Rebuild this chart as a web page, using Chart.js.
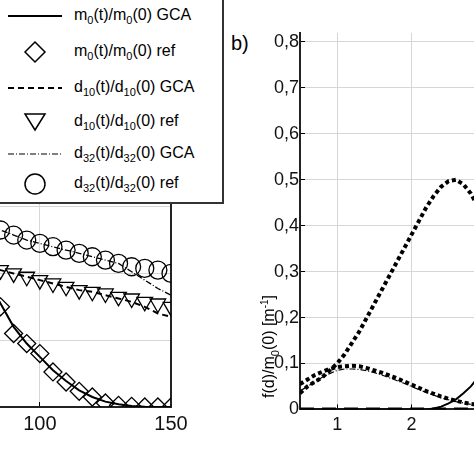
<!DOCTYPE html>
<html><head><meta charset="utf-8">
<script src="https://cdn.jsdelivr.net/npm/chart.js@4/dist/chart.umd.min.js"></script>
<style>
body{margin:0;width:474px;height:474px;overflow:hidden;background:#fff;position:relative;font-family:Arial,"Liberation Sans",sans-serif}
#wa{position:absolute;left:-238px;top:-4px;width:469px;height:450px}
#wb{position:absolute;left:268px;top:16px;width:240px;height:430px}
#legend{position:absolute;left:-2px;top:-2px;width:222px;height:202px;border:2px solid #333;background:#fff;font-size:16px}
.row{position:absolute;left:0;height:24px;display:flex;align-items:center}
.row svg{width:70px;height:24px}
.row span{margin-left:4px;white-space:nowrap}
sub{font-size:11px}
#lb{position:absolute;left:231px;top:32px;font-size:20px}
#ylab{position:absolute;left:256px;top:398px;transform:rotate(-90deg);transform-origin:0 0;font-size:16px;white-space:nowrap;line-height:18px}
</style></head><body>
<div id="wa"><canvas id="ca"></canvas></div>
<div id="wb"><canvas id="cb"></canvas></div>
<div id="legend">
 <div class="row" style="top:4px"><svg><line x1="8" y1="12" x2="62" y2="12" stroke="#000" stroke-width="2"/></svg><span>m<sub>0</sub>(t)/m<sub>0</sub>(0) GCA</span></div>
 <div class="row" style="top:40px"><svg><polygon points="35,2 45,12 35,22 25,12" fill="none" stroke="#000" stroke-width="1.5"/></svg><span>m<sub>0</sub>(t)/m<sub>0</sub>(0) ref</span></div>
 <div class="row" style="top:76px"><svg><line x1="8" y1="12" x2="62" y2="12" stroke="#000" stroke-width="2" stroke-dasharray="6,4"/></svg><span>d<sub>10</sub>(t)/d<sub>10</sub>(0) GCA</span></div>
 <div class="row" style="top:110px"><svg><polygon points="25,4 45,4 35,20" fill="none" stroke="#000" stroke-width="1.5"/></svg><span>d<sub>10</sub>(t)/d<sub>10</sub>(0) ref</span></div>
 <div class="row" style="top:142px"><svg><line x1="8" y1="12" x2="62" y2="12" stroke="#000" stroke-width="1.2" stroke-dasharray="6,2,1,2"/></svg><span>d<sub>32</sub>(t)/d<sub>32</sub>(0) GCA</span></div>
 <div class="row" style="top:172px"><svg><circle cx="35" cy="12" r="10" fill="none" stroke="#000" stroke-width="1.5"/></svg><span>d<sub>32</sub>(t)/d<sub>32</sub>(0) ref</span></div>
</div>
<div id="lb">b)</div>
<div id="ylab">f(d)/m<sub>0</sub>(0) [m<sup style="font-size:10px">-1</sup>]</div>
<script>
// panel a
var tA = [0,5,10,15,20,25,30,35,40,45,50,55,60,65,70,75,80,85,90,95,100,105,110,115,120,125,130,135,140,145,150];
var m0Ref = [1,1,0.99,0.98,0.97,0.95,0.93,0.9,0.87,0.83,0.78,0.72,0.66,0.59,0.52,0.45,0.39,0.30,0.22,0.19,0.16,0.105,0.075,0.047,0.03,0.012,0.005,0.002,0,0,0];
var m0Gca = [1,1,0.99,0.98,0.97,0.95,0.93,0.9,0.87,0.83,0.78,0.72,0.66,0.59,0.52,0.45,0.38,0.31,0.24,0.19,0.15,0.11,0.078,0.05,0.03,0.016,0.008,0.003,0.001,0,0];
var d10Ref = [1,0.95,0.9,0.85,0.8,0.76,0.72,0.68,0.64,0.61,0.58,0.55,0.52,0.49,0.47,0.44,0.42,0.41,0.40,0.39,0.38,0.37,0.36,0.35,0.345,0.34,0.33,0.325,0.315,0.31,0.30];
var d10Gca = [1,0.95,0.9,0.85,0.8,0.76,0.72,0.68,0.64,0.61,0.58,0.55,0.52,0.49,0.47,0.44,0.42,0.41,0.40,0.39,0.38,0.37,0.36,0.35,0.345,0.335,0.325,0.315,0.30,0.28,0.27];
var d32Ref = [1,0.97,0.94,0.91,0.88,0.85,0.82,0.79,0.76,0.73,0.7,0.67,0.64,0.62,0.6,0.57,0.545,0.53,0.515,0.50,0.49,0.48,0.47,0.46,0.45,0.44,0.43,0.42,0.415,0.41,0.40];
var d32Gca = [1,0.97,0.94,0.91,0.88,0.85,0.82,0.79,0.76,0.73,0.7,0.67,0.64,0.62,0.6,0.57,0.545,0.53,0.515,0.50,0.49,0.48,0.47,0.46,0.45,0.44,0.43,0.405,0.38,0.355,0.335];
var tTicksA = [0,50,100,150];
// panel b
var dB = [0.5,0.6,0.7,0.8,0.9,1.0,1.1,1.2,1.3,1.4,1.5,1.6,1.7,1.8,1.9,2.0,2.1,2.2,2.3,2.4,2.5,2.6,2.7,2.8,2.9,3.0];
var fBig = [0.035,0.05,0.06,0.07,0.085,0.1,0.12,0.145,0.17,0.2,0.23,0.26,0.29,0.32,0.35,0.38,0.41,0.44,0.465,0.485,0.497,0.5,0.49,0.47,0.44,0.4];
var fSmall = [0.055,0.065,0.075,0.082,0.088,0.092,0.094,0.095,0.094,0.09,0.085,0.08,0.074,0.068,0.061,0.054,0.047,0.04,0.034,0.028,0.023,0.019,0.015,0.012,0.01,0.008];
var fSmallGca = [0.04,0.05,0.06,0.07,0.078,0.085,0.088,0.088,0.087,0.084,0.08,0.075,0.069,0.063,0.057,0.05,0.043,0.037,0.031,0.025,0.021,0.017,0.014,0.011,0.009,0.007];
var fSolid = [0,0,0,0,0,0,0,0,0,0,0,0,0,0,0,0,0,0,0.002,0.006,0.013,0.022,0.035,0.05,0.07,0.09];
var fZero = [0,0,0,0,0,0,0,0,0,0,0,0,0,0,0,0,0,0,0,0,0,0,0,0,0,0];
var yTicksB = [0,0.1,0.2,0.3,0.4,0.5,0.6,0.7,0.8];

function pts(xs, ys){ return xs.map(function(x,i){ return {x:x, y:ys[i]}; }); }
var gridC = '#d6d6d6';
Chart.defaults.font.family = 'Arial, "Liberation Sans", sans-serif';
Chart.defaults.color = '#111';

new Chart('ca', {
  type: 'line',
  data: { datasets: [
    {data: pts(tA, m0Gca), borderColor:'#000', borderWidth:2, pointRadius:0},
    {data: pts(tA, m0Ref), showLine:false, pointStyle:'rectRot', pointRadius:9, pointBorderColor:'#000', pointBackgroundColor:'rgba(0,0,0,0)', pointBorderWidth:1.3},
    {data: pts(tA, d10Gca), borderColor:'#000', borderWidth:2, borderDash:[6,4], pointRadius:0},
    {data: pts(tA, d10Ref), showLine:false, pointStyle:'triangle', rotation:180, pointRadius:9, pointBorderColor:'#000', pointBackgroundColor:'rgba(0,0,0,0)', pointBorderWidth:1.3},
    {data: pts(tA, d32Gca), borderColor:'#000', borderWidth:1.3, borderDash:[6,2,1,2], pointRadius:0},
    {data: pts(tA, d32Ref), showLine:false, pointStyle:'circle', pointRadius:9, pointBorderColor:'#000', pointBackgroundColor:'rgba(0,0,0,0)', pointBorderWidth:1.3}
  ]},
  options: {
    responsive:true, maintainAspectRatio:false, animation:false,
    layout:{padding:{left:0,right:52,top:0}},
    plugins:{legend:{display:false}, tooltip:{enabled:false}},
    scales:{
      x:{type:'linear', min:0, max:150, afterBuildTicks:function(a){a.ticks=tTicksA.map(function(v){return {value:v};});},
         grid:{color:gridC, drawTicks:true, tickColor:'#000', tickLength:-5}, border:{color:'#222', width:2},
         ticks:{font:{size:20}, padding:10}},
      y:{min:0, max:1.2, ticks:{display:false, stepSize:0.2}, grid:{color:gridC}, border:{color:'#222', width:2}},
      y2:{position:'right', min:0, max:1.2, ticks:{display:false, stepSize:0.2}, grid:{display:false}, border:{color:'#222', width:2}}
    }
  }
});

new Chart('cb', {
  type: 'line',
  data: { datasets: [
    {data: pts(dB, fZero), borderColor:'#000', borderWidth:4, borderDash:[14,8], pointRadius:0},
    {data: pts(dB, fSolid), borderColor:'#000', borderWidth:2, pointRadius:0},
    {data: pts(dB, fSmallGca), borderColor:'#000', borderWidth:1.2, borderDash:[6,2,1,2], pointRadius:0},
    {data: pts(dB, fSmall), borderColor:'#000', borderWidth:4, borderDash:[4,3], pointRadius:0},
    {data: pts(dB, fBig), borderColor:'#000', borderWidth:4, borderDash:[4,3], pointRadius:0}
  ]},
  options: {
    responsive:true, maintainAspectRatio:false, animation:false,
    layout:{padding:{left:0,top:8}},
    plugins:{legend:{display:false}, tooltip:{enabled:false}},
    scales:{
      x:{type:'linear', min:0.5, max:3.3, ticks:{font:{size:18}, padding:10},
         afterBuildTicks:function(a){a.ticks=[1,2,3].map(function(v){return {value:v};});},
         grid:{color:gridC, tickLength:-5, tickColor:'#000'}, border:{color:'#222', width:2}},
      y:{min:0, max:0.82, afterBuildTicks:function(a){a.ticks=yTicksB.map(function(v){return {value:v};});},
         ticks:{font:{size:18}, padding:6, callback:function(v){return String(Math.round(v*10)/10).replace('.',',');}},
         grid:{color:gridC, tickLength:-5, tickColor:'#000'}, border:{color:'#222', width:2}}
    }
  }
});
</script>
</body></html>
